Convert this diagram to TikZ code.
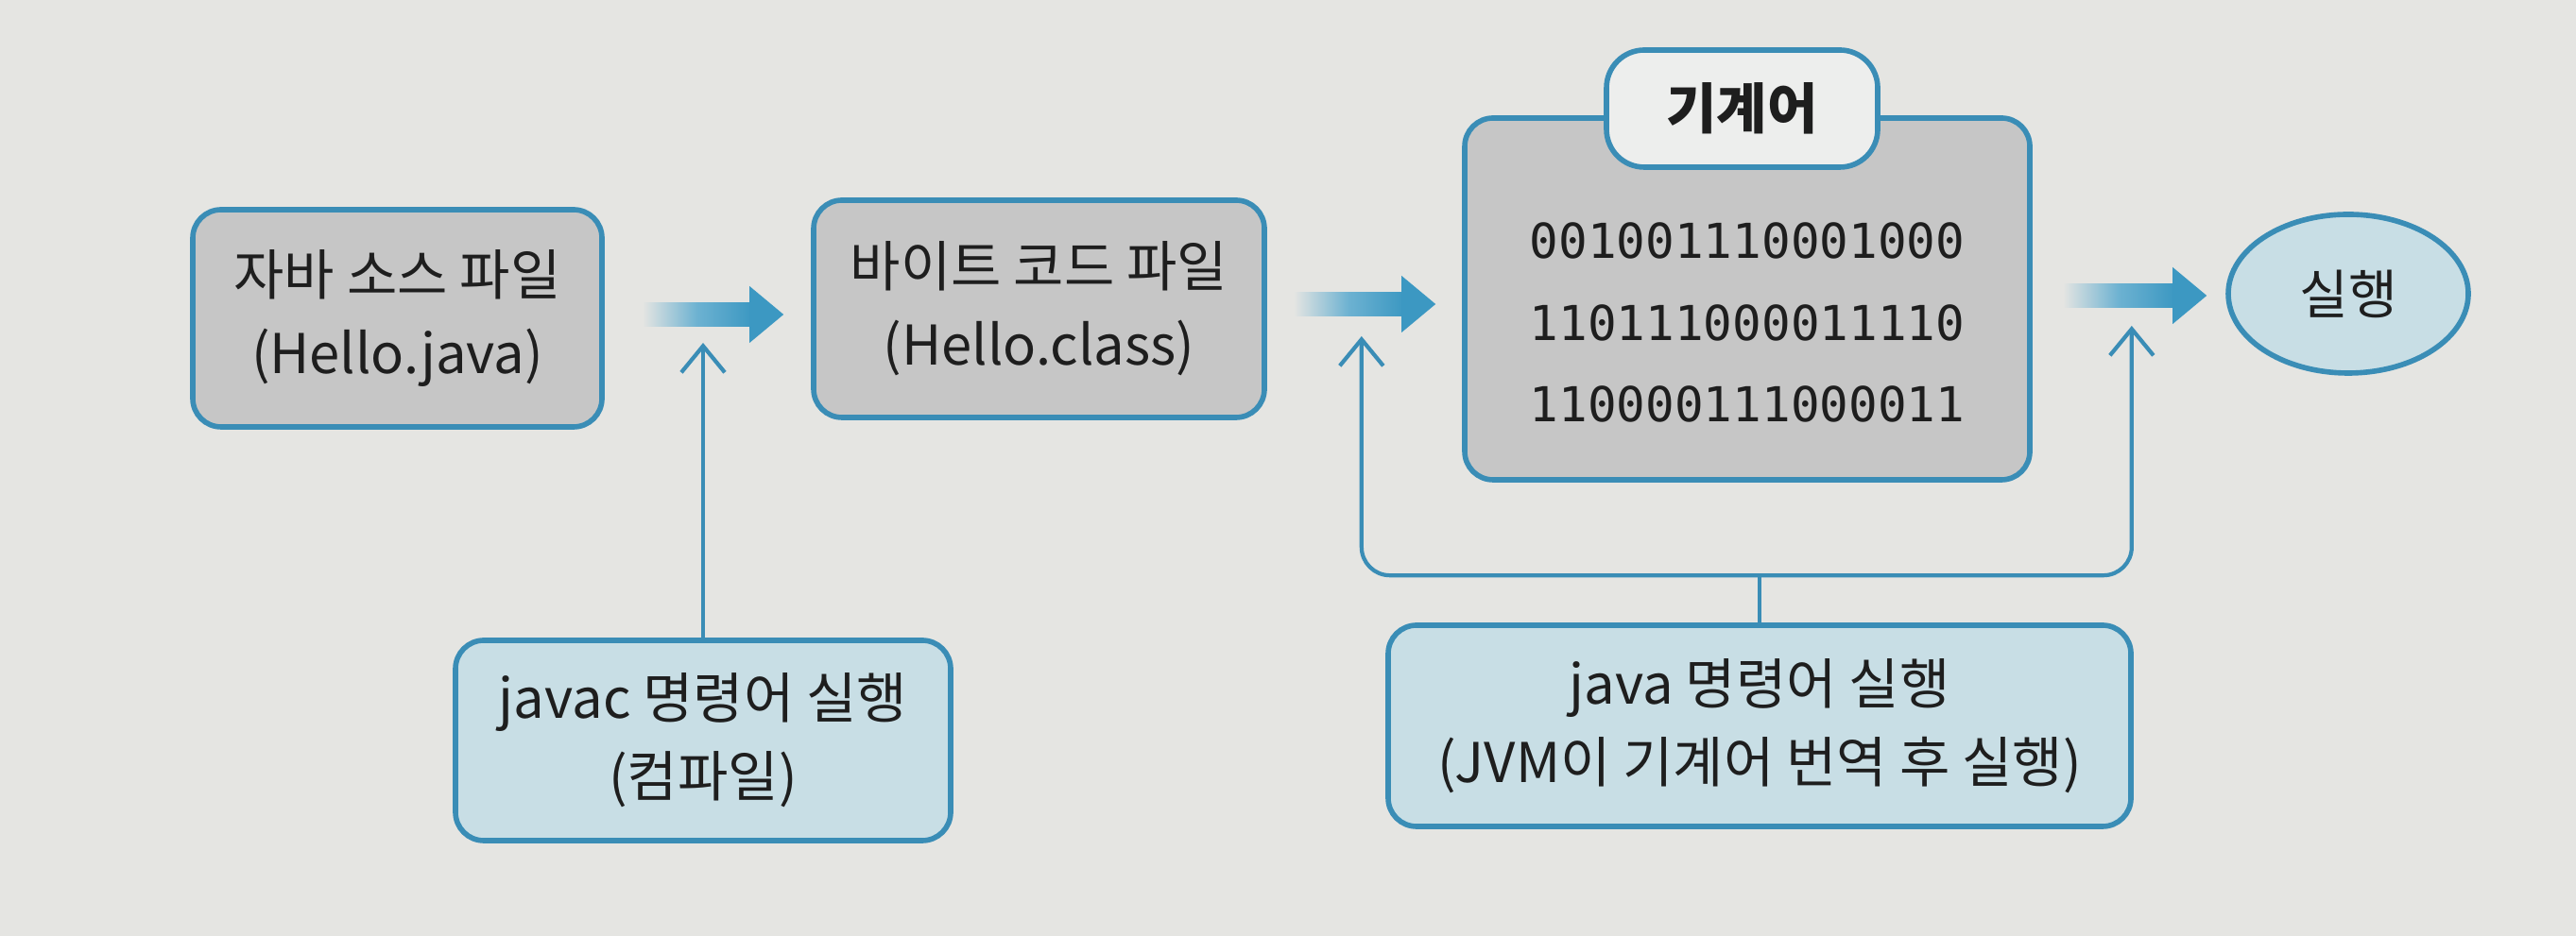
\documentclass[tikz,border=0pt]{standalone}
\usepackage{fontspec}
\setmainfont{Noto Sans CJK KR}
\newfontfamily\bitsfont{DejaVu Sans Mono}
\usetikzlibrary{calc,positioning,shapes.geometric,arrows.meta}

\definecolor{paper}{HTML}{E5E5E2}
\definecolor{rim}{HTML}{3A8DB6}
\definecolor{flow}{HTML}{3C98C2}
\definecolor{stone}{HTML}{C6C6C6}
\definecolor{mist}{HTML}{C8DEE5}
\definecolor{chalk}{HTML}{EDEEED}
\definecolor{ink}{HTML}{1E1E1E}

\tikzset{
	card/.style={draw=rim, line width=1.6pt, rounded corners=3mm, align=center, text=ink, inner sep=0pt, font=\fontsize{16.5}{23.5}\selectfont},
	graycard/.style={card, fill=stone},
	bluecard/.style={card, fill=mist},
	feed/.style={draw=rim, line width=1.2pt},
	feedtip/.style={feed, -{Straight Barb[length=2.8mm, width=4.6mm]}},
}
\def\flowarrow(#1)(#2){\shade[left color=paper, right color=flow, middle color=flow!75] ($(#1)+(0,-0.125)$) rectangle ($(#2)+(-0.34,0.125)$);
	\fill[flow] ($(#2)+(-0.36,0.30)$) -- (#2) -- ($(#2)+(-0.36,-0.30)$) -- cycle;}

\begin{document}
\begin{tikzpicture}
			%%%%% START %%%%%
			
			\useasboundingbox (0, 0) rectangle (27.26, 9.91);
			\fill[paper] (0, 0) rectangle (27.26, 9.91);
			
			\node[graycard, minimum width=4.33cm, minimum height=2.30cm] (src) at (4.205, 6.54) {자바 소스 파일\\(Hello.java)};
			\node[graycard, minimum width=4.77cm, minimum height=2.30cm] (bytecode) at (10.995, 6.64) {바이트 코드 파일\\(Hello.class)};
			
			\node[graycard, minimum width=5.98cm, minimum height=3.83cm] (machine) at (18.49, 6.745) {};
			\node[text=ink, align=center, font=\bitsfont\fontsize{14.5}{24.7}\selectfont] (bits) at ($(machine.center)+(0,-0.25)$) {001001110001000\\110111000011110\\110000111000011};
			\node[card, fill=chalk, rounded corners=4mm, minimum width=2.87cm, minimum height=1.24cm, font=\bfseries\fontsize{16.5}{20}\selectfont] (label) at (18.435, 8.76) {기계어};
			
			\node[bluecard, shape=ellipse, sharp corners, minimum width=2.54cm, minimum height=1.68cm, font=\fontsize{16}{20}\selectfont] (run) at (24.85, 6.80) {실행};
			
			\node[bluecard, minimum width=5.24cm, minimum height=2.12cm] (javac) at (7.44, 2.07) {javac 명령어 실행\\(컴파일)};
			\node[bluecard, minimum width=7.86cm, minimum height=2.13cm] (java) at (18.62, 2.225) {java 명령어 실행\\(JVM이 기계어 번역 후 실행)};
			
			% thick arrows
			\coordinate (a1s) at ($(src.east)+(0.40,0.04)$);
			\coordinate (a1e) at ($(a1s -| bytecode.west)+(-0.29,0)$);
			\coordinate (a2s) at ($(bytecode.east)+(0.28,0.05)$);
			\coordinate (a2e) at ($(a2s -| machine.west)+(-0.28,0)$);
			\coordinate (a3s) at ($(machine.east)+(0.32,0.035)$);
			\coordinate (a3e) at ($(a3s -| run.west)+(-0.20,0)$);
			\flowarrow(a1s)(a1e)
			\flowarrow(a2s)(a2e)
			\flowarrow(a3s)(a3e)
			
			% thin arrows
			\coordinate (compile) at ($(javac.north |- a1s)+(0,-0.30)$);
			\draw[feedtip] (javac) -- (compile);
			
			\coordinate (fork) at ($(java.north)+(0,0.50)$);
			\coordinate (jvm) at ($(a2s)+(0.72,-0.34)$);
			\coordinate (exec) at ($(a3s)+(0.73,-0.32)$);
			\draw[feed] (java) -- (fork);
			\draw[feedtip, rounded corners=3mm] (fork) -| (jvm);
			\draw[feedtip, rounded corners=3mm] (fork) -| (exec);
			
			%%%%% END %%%%%
\end{tikzpicture}
\end{document}
